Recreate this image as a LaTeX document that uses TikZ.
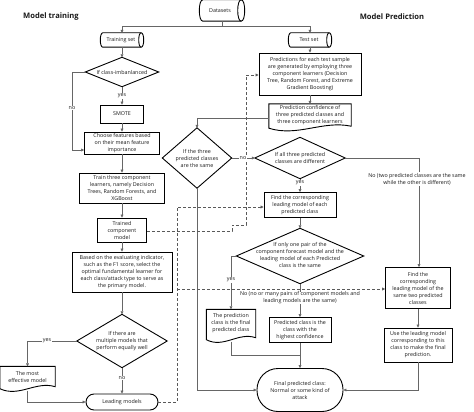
\documentclass[tikz,border=0pt]{standalone}
\usepackage{fontspec}
\setmainfont{Open Sans}
\usetikzlibrary{shapes.geometric,calc,arrows.meta}
\begin{document}
\begin{tikzpicture}[x=1pt,y=-1pt,
  txt/.style={font=\fontsize{5.35}{7}\selectfont, align=center, inner sep=0pt, text=black!90},
  title/.style={font=\fontsize{7.6}{9}\selectfont\bfseries, inner sep=0pt, text=black!90},
  bord/.style={draw=black, line width=0.9pt},
  bx/.style={txt, bord, rectangle},
  blank/.style={txt, rectangle, draw=none},
  conn/.style={draw=black!60, line width=0.6pt},
  arr/.style={conn, -{Triangle[length=3pt,width=2.8pt]}},
  dashline/.style={draw=black!65, line width=0.7pt, dash pattern=on 3pt off 2pt},
  dasharr/.style={dashline, -{Triangle[length=3pt,width=2.8pt]}},
  lbl/.style={txt, fill=white, inner sep=0.6pt}
]
\newcommand\docshape[1]{\draw[bord] ($(#1.south west)+(0,-3)$) -- (#1.north west) -- (#1.north east) -- ($(#1.south east)+(0,-5)$) .. controls ($(#1.south east)!0.35!(#1.south west)+(0,-11)$) and ($(#1.south west)!0.35!(#1.south east)+(0,6)$) .. ($(#1.south west)+(0,-3)$) -- cycle;}
\newcommand\docnode[5]{\node[blank, minimum width=#3, minimum height=#4] (#1) at (#2) {};
  \docshape{#1}
  \node[txt] (#1t) at ($(#1)+(0,-2.5)$) {#5};}
\newcommand\diashape[1]{\draw[bord] (#1.north) -- (#1.east) -- (#1.south) -- (#1.west) -- cycle;}
\newcommand\cylshape[2]{\draw[bord] ($(#1.north west)+(#2,0)$) -- ($(#1.north east)+(-#2,0)$) .. controls ($(#1.north east)+(#2/3,0)$) and ($(#1.south east)+(#2/3,0)$) .. ($(#1.south east)+(-#2,0)$) -- ($(#1.south west)+(#2,0)$) .. controls ($(#1.south west)+(-#2/3,0)$) and ($(#1.north west)+(-#2/3,0)$) .. cycle;
  \draw[bord] ($(#1.north east)+(-#2,0)$) .. controls ($(#1.north east)+(-7*#2/3,0)$) and ($(#1.south east)+(-7*#2/3,0)$) .. ($(#1.south east)+(-#2,0)$);}
\useasboundingbox (0,0) rectangle (474,412);

% titles
\node[title] (t1) at (51,17) {Model training};
\node[title] (t2) at (392,17) {Model Prediction};

% top
\node[blank, minimum width=45pt, minimum height=21pt] (ds) at (222,10.5) {};
\cylshape{ds}{3.5}
\node[txt] (dst) at (220,10.5) {Datasets};
\node[blank, minimum width=43pt, minimum height=14pt] (train) at (122,40) {};
\cylshape{train}{2.5}
\node[txt] (traint) at (121,40) {Training set};
\node[blank, minimum width=43pt, minimum height=14pt] (test) at (310,40) {};
\cylshape{test}{2.5}
\node[txt] (testt) at (309,40) {Test set};

% left column
\node[blank, minimum width=73pt, minimum height=29pt] (d1) at (122,72) {If class-imbanlanced};
\diashape{d1}
\node[bx, minimum width=43pt, minimum height=18pt] (smote) at (122,114) {SMOTE};
\node[bx, minimum width=75pt, minimum height=22pt] (feat) at (122,143) {Choose features based\\on their mean feature\\importance};
\node[bx, minimum width=85pt, minimum height=30pt] (learn) at (122,188) {Train three component\\learners, namely Decision\\Trees, Random Forests, and\\XGBoost};
\node[bx, minimum width=49pt, minimum height=24pt] (tcm) at (122,230) {Trained\\component\\model};
\node[bx, minimum width=100pt, minimum height=40pt] (based) at (122,272) {Based on the evaluating indicator,\\such as the F1 score, select the\\optimal fundamental learner for\\each class/attack type to serve as\\the primary model.};
\node[blank, minimum width=90pt, minimum height=53pt] (d2) at (122,341) {If there are\\multiple models that\\perform equally well};
\diashape{d2}
\docnode{most}{27.5,379}{55pt}{25pt}{The most\\effective model}
\node[txt, bord, rectangle, rounded corners=8pt, minimum width=72pt, minimum height=16pt] (lead) at (122,402) {Leading models};

% right column
\node[bx, minimum width=102pt, minimum height=42pt] (pred) at (310,74) {Predictions for each test sample\\are generated by employing three\\component learners (Decision\\Tree, Random Forest, and Extreme\\Gradient Boosting)};
\docnode{conf}{310,117.5}{82pt}{27pt}{Prediction confidence of\\three predicted classes and\\three component learners}
\node[blank, minimum width=69pt, minimum height=60pt] (d3) at (197,158) {If the three\\predicted classes\\are the same};
\diashape{d3}
\node[blank, minimum width=90pt, minimum height=41pt] (d4) at (300,158) {If all three predicted\\classes are different};
\diashape{d4}
\node[bx, minimum width=72pt, minimum height=25pt] (findeach) at (300,205) {Find the corresponding\\leading model of each\\predicted class};
\node[blank, minimum width=127pt, minimum height=55pt] (d5) at (300,256) {};
\diashape{d5}
\node[txt] (d5t) at (300,255) {If only one pair of the\\component forecast model and the\\leading model of each Predicted\\class is the same};
\docnode{finaldoc}{231,326}{49pt}{33pt}{The prediction\\class is the final\\predicted class}
\node[bx, minimum width=62pt, minimum height=25pt] (high) at (300,330) {Predicted class is the\\class with the\\highest confidence};
\node[txt, bord, rectangle, rounded corners=21pt, minimum width=86pt, minimum height=43pt] (final) at (300,390) {Final predicted class:\\Normal or some kind of\\attack};
\node[bx, minimum width=65pt, minimum height=41pt] (findtwo) at (418,288) {Find the\\corresponding\\leading model of the\\same two predicted\\classes};
\node[bx, minimum width=68pt, minimum height=34pt] (use) at (418,345) {Use the leading model\\corresponding to this\\class to make the final\\prediction.};

% solid connectors
\coordinate (dsj) at (222,26);
\draw[conn] (ds.south) -- (dsj);
\draw[arr] (dsj) -| (train.north);
\draw[arr] (dsj) -| (test.north);
\draw[arr] (train.south) -- (d1.north);
\draw[arr] (d1.south) -- (smote.north);
\coordinate (nob) at (72,72);
\draw[arr] (d1.west) -- (nob) |- ($(feat.west)+(0,7)$);
\draw[arr] (smote.south) -- (feat.north);
\draw[arr] (feat.south) -- (learn.north);
\draw[arr] (learn.south) -- (tcm.north);
\draw[arr] (tcm.south) -- (based.north);
\draw[arr] (based.south) -- (d2.north);
\draw[arr] (d2.west) -| (most.north);
\draw[arr] (d2.south) -- (lead.north);
\draw[arr] ($(most.south)+(0,-1)$) |- (lead.west);

\draw[arr] (test.south) -- (pred.north);
\draw[arr] (pred.south) -- (conf.north);
\draw[arr] ($(conf.west)+(0,1)$) -| (d3.north);
\draw[arr] (d3.east) -- (d4.west);
\draw[arr] (d3.south) |- (final.west);
\draw[arr] (d4.south) -- (findeach.north);
\coordinate (d4r) at (419,158);
\draw[arr] (d4.east) -- (d4r) -- (d4r |- findtwo.north);
\draw[arr] (findeach.south) -- (d5.north);
\draw[arr] (d5.west) -| (finaldoc.north);
\draw[arr] (d5.south) -- (high.north);
\draw[arr] (high.south) -- (final.north);
\coordinate (jn) at (300,355);
\draw[conn] ($(finaldoc.south)+(0,-1)$) |- (jn);
\draw[arr] (findtwo.south) -- (use.north);
\draw[arr] (use.south) |- (final.east);

% dashed connectors
\coordinate (p1) at (232,231);
\coordinate (p2) at (232,225);
\coordinate (p3) at (246,225);
\coordinate (p4) at (246,75);
\draw[dasharr] ($(tcm.east)+(0,1)$) -- (p1) -- (p2) -- (p3) -- (p4) -- (p4 -| pred.west);
\coordinate (q1) at (177,402);
\coordinate (q2) at (177,207);
\coordinate (q3) at (177,289);
\draw[dasharr] (lead.east) -- (q1) -- (q2) -- (q2 -| findeach.west);
\draw[dasharr] (q3) -- (q3 -| findtwo.west);

% labels
\node[lbl] (l1) at (122,96) {yes};
\node[lbl] (l2) at (72,108) {no};
\node[lbl] (l3) at (47,341) {yes};
\node[lbl] (l4) at (122,378) {no};
\node[lbl] (l5) at (243,158) {no};
\node[lbl] (l6) at (300,183) {yes};
\node[lbl] (l7) at (417,179) {No (two predicted classes are the same\\while the other is different)};
\node[lbl] (l8) at (231,280) {yes};
\node[lbl, inner sep=0pt] (l9) at (300,298) {No (no or many pairs of component models and\\leading models are the same)};
\end{tikzpicture}
\end{document}
